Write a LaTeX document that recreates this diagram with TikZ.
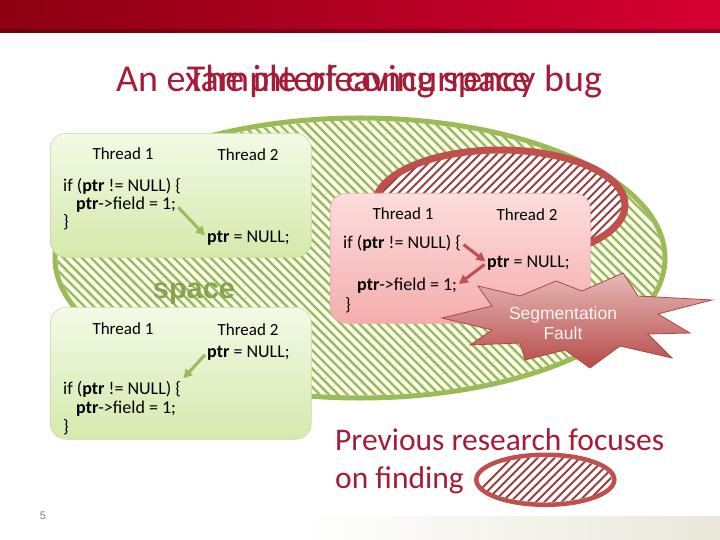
\documentclass[tikz,border=0pt]{standalone}
\usepackage{fontspec}
\setmainfont{Carlito}
\newfontfamily\arialfont{Liberation Sans}
\usetikzlibrary{shapes.geometric, arrows.meta, positioning}

\definecolor{slidered}{HTML}{A51C36}
\definecolor{bannerdark}{HTML}{8C0012}
\definecolor{bannerlight}{HTML}{D60032}
\definecolor{footerbeige}{HTML}{EAE7DA}
\definecolor{spacegreen}{HTML}{9BBB59}
\definecolor{spacecream}{HTML}{FBFDF0}
\definecolor{bugred}{HTML}{C0504D}
\definecolor{boxgreentop}{HTML}{F3FAE6}
\definecolor{boxgreenbot}{HTML}{D5E9AC}
\definecolor{boxpinktop}{HTML}{FDDDDD}
\definecolor{boxpinkbot}{HTML}{F4ADAD}

\tikzset{
  title/.style={font=\fontsize{38}{40}\selectfont, text=slidered, anchor=base, inner sep=0pt},
  spaceoval/.style={ellipse, draw=spacegreen, line width=5pt, minimum width=610pt, minimum height=280pt, fill=spacecream},
  greenhatch/.style={draw=spacegreen, line width=2.4pt},
  spacetext/.style={font=\arialfont\bfseries\fontsize{29}{31}\selectfont, text=spacegreen!88!black, anchor=base, inner sep=0pt},
  bugoval/.style={ellipse, draw=bugred, line width=7pt, minimum width=250pt, minimum height=110pt, fill=white},
  redhatch/.style={draw=bugred!80!black, line width=2pt},
  smalloval/.style={bugoval, line width=4.5pt, minimum width=138pt, minimum height=50pt},
  greenbox/.style={anchor=north west, draw=spacegreen!55, line width=0.6pt, rounded corners=16pt,
    top color=boxgreentop, bottom color=boxgreenbot, minimum width=261pt},
  pinkbox/.style={anchor=north west, draw=bugred!45, line width=0.6pt, rounded corners=16pt,
    top color=boxpinktop, bottom color=boxpinkbot, minimum width=260pt, minimum height=130pt},
  thread/.style={font=\fontsize{17}{19}\selectfont, anchor=base, inner sep=0pt},
  code/.style={font=\fontsize{18}{20}\selectfont, anchor=base west, inner sep=0pt},
  greenarrow/.style={draw=spacegreen, line width=3pt, -{Triangle[length=9pt,width=9pt]}, shorten <=3pt, shorten >=3pt},
  redarrow/.style={draw=bugred, line width=3pt, -{Triangle[length=9pt,width=9pt]}, shorten <=3pt, shorten >=2pt},
  burst/.style={draw=bugred!90!black, line width=0.8pt, top color=bugred!40!white, bottom color=bugred!95!black},
  segtext/.style={font=\arialfont\fontsize{17.5}{20}\selectfont, text=white!96!red, align=center},
  note/.style={font=\fontsize{31.5}{36}\selectfont, text=slidered, anchor=base west, inner sep=0pt}
}

\begin{document}
\begin{tikzpicture}[x=1pt, y=-1pt]
\useasboundingbox (0,0) rectangle (720,540);

% Banner and footer
\shade[left color=bannerdark, right color=bannerlight] (0,0) rectangle (720,31);
\shade[left color=bannerdark!80!black, right color=bannerlight!70!black] (0,30) rectangle (720,33);
\shade[left color=white, right color=footerbeige] (300,516) rectangle (720,540);

% Titles (drawn on top of each other)
\node[title] (titleA) at (359,92) {An example of concurrency bug};
\node[title] (titleB) at (359,92) {The interleaving space};

% Interleaving space
\node[spaceoval] (space) at (360,258) {};
\begin{scope}
  \clip (space.center) ellipse [x radius=302.5, y radius=137.5];
  \foreach \i in {-250,-240.8,...,670}
    \draw[greenhatch] (\i,110) -- ++(300,300);
\end{scope}
\node[spacetext] (spacelabel) at (194,298) {space};

% Bugs
\node[bugoval] (bugs) at (500,205) {};
\begin{scope}
  \clip (bugs.center) ellipse [x radius=121.5, y radius=51.5];
  \foreach \i in {250,258.5,...,630}
    \draw[redhatch] (\i,265) -- ++(120,-120);
\end{scope}

% Boxes
\node[greenbox, minimum height=124pt] (orderA) at (50,133) {};
\node[greenbox, minimum height=132pt] (orderB) at (50,307) {};
\node[pinkbox] (orderC) at (330,193) {};

% First order
\node[thread] (a1) at (123,160) {Thread 1};
\node[thread] (a2) at (248,161) {Thread 2};
\node[code] (aif) at (63,192) {if (\textbf{ptr} != NULL) \{};
\node[code] (afield) at (76,210) {\textbf{ptr}->field = 1;};
\node[code] (aend) at (63,228) {\}};
\node[code] (anull) at (207,242) {\textbf{ptr} = NULL;};

% Second order
\node[thread] (b1) at (123,334) {Thread 1};
\node[thread] (b2) at (248,335) {Thread 2};
\node[code] (bnull) at (207,357) {\textbf{ptr} = NULL;};
\node[code] (bif) at (63,394) {if (\textbf{ptr} != NULL) \{};
\node[code] (bfield) at (76,413) {\textbf{ptr}->field = 1;};
\node[code] (bend) at (63,432) {\}};

% Buggy order
\node[thread] (c1) at (403,220) {Thread 1};
\node[thread] (c2) at (527,221) {Thread 2};
\node[code] (cif) at (343,248) {if (\textbf{ptr} != NULL) \{};
\node[code] (cnull) at (487,267) {\textbf{ptr} = NULL;};
\node[code] (cfield) at (357,290) {\textbf{ptr}->field = 1;};
\node[code] (cend) at (345,310) {\}};

% Orders
\draw[greenarrow] (afield.east) -- (anull.west);
\draw[greenarrow] (bnull.west) -- (bif.north east);
\draw[redarrow] (cif.east) -- (cnull.west);
\draw[redarrow] (cnull.west) -- (cfield.east);

% Crash
\draw[burst] (442,318) -- (492,306) -- (478,286) -- (520,296) -- (556,281) -- (582,291)
  -- (623,273) -- (638,296) -- (712,300) -- (658,314) -- (690,333) -- (648,334)
  -- (672,358) -- (620,346) -- (590,368) -- (565,350) -- (525,360) -- (520,343)
  -- (470,345) -- (492,330) -- cycle;
\node[segtext] (segfault) at (563,323) {Segmentation\\Fault};

% Note
\node[note] (prev) at (335,450) {Previous research focuses};
\node[note] (finding) at (335,488) {on finding};
\node[smalloval, right=10pt of finding] (bugsmall) {};
\begin{scope}
  \clip (bugsmall.center) ellipse [x radius=66.5, y radius=22.5];
  \foreach \i in {460,468.5,...,620}
    \draw[redhatch] (\i,510) -- ++(60,-60);
\end{scope}

\node[font=\arialfont\fontsize{11}{12}\selectfont, text=gray] (page) at (43,516) {5};

\end{tikzpicture}
\end{document}
